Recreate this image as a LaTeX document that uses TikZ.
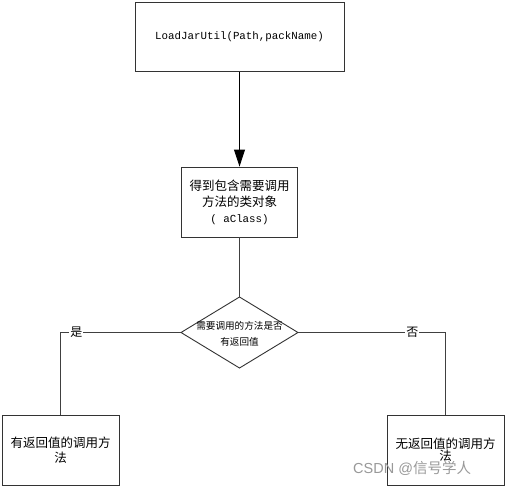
\documentclass[tikz,border=0pt]{standalone}
\usepackage{fontspec}
\newfontfamily\cjk{Noto Sans CJK SC}
\newfontfamily\monof{Liberation Mono}
\newfontfamily\wmf{Liberation Sans}
\usetikzlibrary{arrows.meta,shapes.geometric}
\begin{document}
\begin{tikzpicture}[x=1pt,y=-1pt,
  boxstyle/.style={draw=black!80,line width=0.9pt,inner sep=0pt,align=center},
  linkline/.style={draw=black!75,line width=0.9pt},
  cjktext/.style={font=\cjk\fontsize{12.5}{16}\selectfont}]
\useasboundingbox (0,0) rectangle (505,487);
\fill[white] (0,0) rectangle (505,487);
\node[boxstyle,minimum width=209pt,minimum height=69pt,font=\monof\fontsize{10.8}{13}\selectfont] (load) at (239.5,37) {LoadJarUtil(Path,packName)};
\node[boxstyle,minimum width=116pt,minimum height=70pt,cjktext] (cls) at (239.5,202) {得到包含需要调用\\方法的类对象\\{\monof\fontsize{10.8}{16}\selectfont( aClass)}};
\node[draw=black!80,line width=0.9pt,diamond,minimum width=117pt,minimum height=71pt,inner sep=0pt,outer sep=0pt] (dec) at (239.5,332.5) {};
\node[align=center,inner sep=0pt,font=\cjk\fontsize{9.6}{16}\selectfont] (dectext) at ([yshift=-1pt]dec.center) {需要调用的方法是否\\有返回值};
\node[boxstyle,minimum width=117pt,minimum height=70pt,font=\cjk\fontsize{12.5}{15}\selectfont] (yes) at (60.5,450) {有返回值的调用方\\法};
\node[boxstyle,minimum width=117pt,minimum height=70pt,font=\cjk\fontsize{12.5}{12}\selectfont] (no) at (445.5,450) {无返回值的调用方\\法};
\draw[draw=black,line width=0.9pt,-{Triangle[length=17pt,width=11pt,fill=black]}] (load) -- (cls);
\draw[linkline] (cls) -- (dec);
\draw[linkline] (dec.west) -| node[pos=0.434,fill=white,inner sep=1pt,font=\cjk\fontsize{12}{12}\selectfont]{是} (yes.north);
\draw[linkline] (dec.east) -| node[pos=0.388,fill=white,inner sep=1pt,font=\cjk\fontsize{12}{12}\selectfont]{否} (no.north);
\node[text=black!40,font=\wmf\fontsize{14.5}{15}\selectfont,anchor=west,inner sep=0pt] (wm) at (353,468) {CSDN @{\cjk 信号学人}};
\end{tikzpicture}
\end{document}
